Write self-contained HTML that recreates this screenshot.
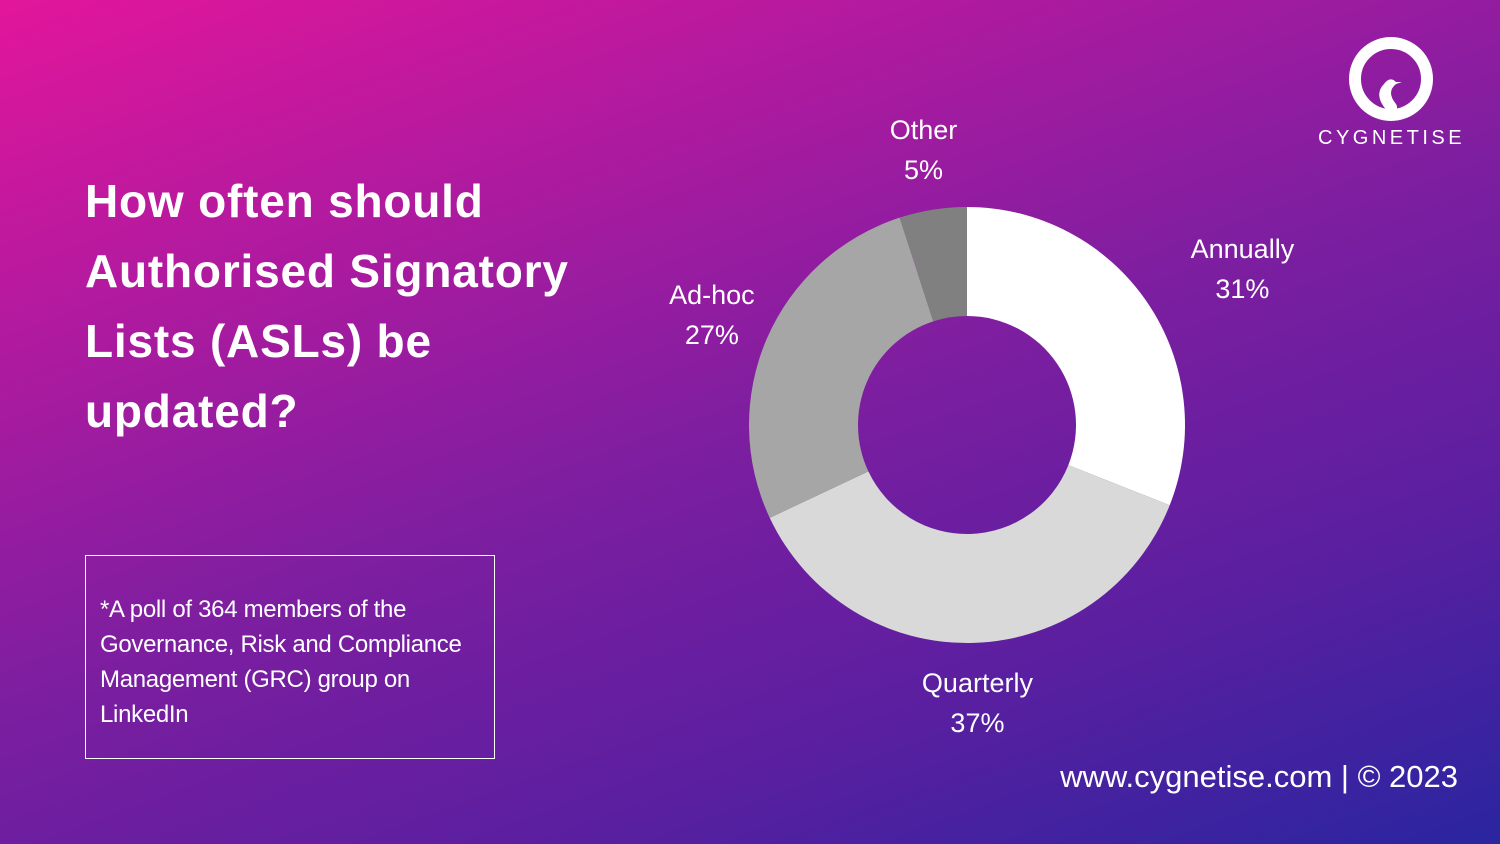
<!DOCTYPE html>
<html><head><meta charset="utf-8"><style>
html,body{margin:0;padding:0}
body{width:1500px;height:844px;overflow:hidden;position:relative;font-family:"Liberation Sans",sans-serif;color:#fff;
background:linear-gradient(160deg,#e2169b 0%,#b01a9f 25%,#7e1ea0 50%,#5a1fa0 75%,#2a25a0 100%);}
.t{position:absolute;}
h1{position:absolute;left:85px;top:166px;margin:0;font-size:46px;line-height:70px;font-weight:bold;width:540px;letter-spacing:0.8px}
.box{position:absolute;left:85px;top:555px;width:410px;height:204px;border:1.5px solid #fff;box-sizing:border-box}
.box p{margin:0;position:absolute;left:14px;top:36px;font-size:24px;line-height:35px;width:390px;letter-spacing:-0.3px}
.lbl{position:absolute;font-size:27px;line-height:40px;text-align:center;transform:translateX(-50%);white-space:nowrap}
</style></head><body>
<div class="t" style="left:1318px;top:36px;width:145px;height:115px">
<svg width="145" height="86" viewBox="0 0 145 86"><circle cx="73" cy="43" r="36" fill="none" stroke="#fff" stroke-width="12"/><path d="M72 78 q-18 -18 -6 -30 q6 -8 12 -2 l6 0 l-6 2 q-10 8 0 20 q4 6 -6 10" fill="#fff"/></svg>
<div style="font-size:20px;letter-spacing:3.5px;text-align:center;margin-top:0px">CYGNETISE</div></div>
<h1>How often should Authorised Signatory Lists (ASLs) be updated?</h1>
<div class="box"><p>*A poll of 364 members of the Governance, Risk and Compliance Management (GRC) group on LinkedIn</p></div>
<svg id="donut" class="t" style="left:0;top:0" width="1500" height="844"></svg>
<div class="t" style="right:42px;top:759px;font-size:31px">www.cygnetise.com | © 2023</div>
<script>
const categories=["Annually","Quarterly","Ad-hoc","Other"];
const values=[31,37,27,5];
const colors=["#ffffff","#d9d9d9","#a6a6a6","#808080"];
const cx=967,cy=425,R=218,r=109;
const svg=document.getElementById('donut');
const NS="http://www.w3.org/2000/svg";
const total=values.reduce((a,b)=>a+b,0);
function pt(a,rad){return [cx+rad*Math.sin(a),cy-rad*Math.cos(a)];}
let a0=0;
values.forEach((v,i)=>{
 const a1=a0+v/total*2*Math.PI;
 const large=(a1-a0)>Math.PI?1:0;
 const [x0,y0]=pt(a0,R),[x1,y1]=pt(a1,R),[x2,y2]=pt(a1,r),[x3,y3]=pt(a0,r);
 const p=document.createElementNS(NS,'path');
 p.setAttribute('d',`M${x0},${y0}A${R},${R} 0 ${large} 1 ${x1},${y1}L${x2},${y2}A${r},${r} 0 ${large} 0 ${x3},${y3}Z`);
 p.setAttribute('fill',colors[i]);
 
 
 svg.appendChild(p);
 const mid=(a0+a1)/2;
 let [lx,ly]=pt(mid,278);
 lx+=55*Math.max(0,Math.sin(mid));
 const d=document.createElement('div');
 d.className='lbl';
 d.style.left=lx+'px';d.style.top=(ly-40)+'px';
 d.innerHTML=categories[i]+'<br>'+v+'%';
 
 
 document.body.appendChild(d);
 a0=a1;
});
</script>
</body></html>
